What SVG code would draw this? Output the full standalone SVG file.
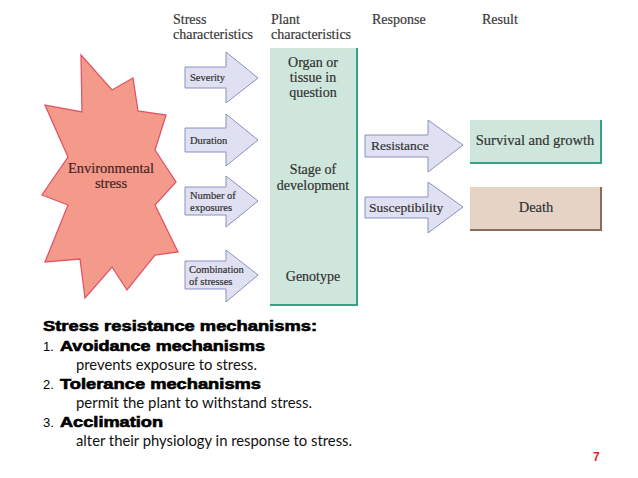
<svg xmlns="http://www.w3.org/2000/svg" width="638" height="478" viewBox="0 0 638 478">
<style>
.hdr{font-family:"Liberation Serif",serif;font-size:14px;fill:#3a3a3a;stroke:#3a3a3a;stroke-width:0.2}
.lbl{font-family:"Liberation Serif",serif;font-size:10.5px;fill:#333;stroke:#333;stroke-width:0.2}
.pl{font-family:"Liberation Serif",serif;font-size:14px;fill:#333;text-anchor:middle;stroke:#333;stroke-width:0.2}
.rl{font-family:"Liberation Serif",serif;font-size:13.5px;fill:#333;stroke:#333;stroke-width:0.2}
.arr{fill:#dfe0f2;stroke:#8a90bf;stroke-width:1}
.bh{font-family:"Liberation Sans",sans-serif;font-size:14px;font-weight:bold;fill:#000;stroke:#000;stroke-width:0.6}
.num{font-family:"Liberation Sans",sans-serif;font-size:13px;fill:#000}
.desc{font-family:"Lato","Liberation Sans",sans-serif;font-size:15px;fill:#111}
</style>
<rect width="638" height="478" fill="#fff"/>

<g id="headers">
<text class="hdr" x="173" y="24">Stress</text>
<text class="hdr" x="173" y="39">characteristics</text>
<text class="hdr" x="271" y="24">Plant</text>
<text class="hdr" x="271" y="39">characteristics</text>
<text class="hdr" x="372" y="24">Response</text>
<text class="hdr" x="482" y="24">Result</text>
</g>

<g id="environmental-stress">
<polygon points="81,55 112,90 133,78 138,111 166,115 155,150 176,182 155,205 178,252 155,255 127,290 112,267 85,298 80,259 45,262 68,205 42,195 68,157 45,105 82,112" fill="#f39a8b" stroke="#e25566" stroke-width="1.3"/>
<text class="pl" x="111" y="173" style="fill:#4a2424;stroke:#4a2424;font-size:14.5px">Environmental</text>
<text class="pl" x="111" y="188" style="fill:#4a2424;stroke:#4a2424;font-size:14.5px">stress</text>
</g>

<g id="connectors">
<g id="severity">
<polygon class="arr" points="185,67 226,67 226,52 258,78 226,103 226,88 185,88"/>
<text class="lbl" x="190" y="81">Severity</text>
</g>
<g id="duration">
<polygon class="arr" points="185,128 226,128 226,114 258,140 226,166 226,152 185,152"/>
<text class="lbl" x="190" y="144">Duration</text>
</g>
<g id="exposures">
<polygon class="arr" points="185,187 226,187 226,176 258,201 226,227 226,215 185,215"/>
<text class="lbl" x="190" y="199">Number of</text>
<text class="lbl" x="190" y="211">exposures</text>
</g>
<g id="combination">
<polygon class="arr" points="185,261 226,261 226,250 258,275 226,302 226,289 185,289"/>
<text class="lbl" x="189" y="273">Combination</text>
<text class="lbl" x="189" y="285">of stresses</text>
</g>
<g id="resistance">
<polygon class="arr" points="365,135 428,135 428,120 463,145 428,172 428,157 365,157"/>
<text class="rl" x="371" y="150">Resistance</text>
</g>
<g id="susceptibility">
<polygon class="arr" points="365,197 428,197 428,182 463,207 428,233 428,218 365,218"/>
<text class="rl" x="369" y="212">Susceptibility</text>
</g>
</g>

<g id="plant-characteristics">
<rect x="270" y="48" width="87" height="257" fill="#cfe6dd"/>
<polyline points="357,48 357,305 270,305" fill="none" stroke="#35a186" stroke-width="2"/>
<text class="pl" x="313" y="67">Organ or</text>
<text class="pl" x="313" y="82">tissue in</text>
<text class="pl" x="313" y="97">question</text>
<text class="pl" x="313" y="174">Stage of</text>
<text class="pl" x="313" y="190">development</text>
<text class="pl" x="313" y="281">Genotype</text>
</g>

<g id="survival">
<rect x="470" y="120" width="131" height="43" fill="#cfe6dd"/>
<polyline points="601,120 601,163 470,163" fill="none" stroke="#35a186" stroke-width="2"/>
<text class="pl" x="535" y="145" style="font-size:14.5px">Survival and growth</text>
</g>

<g id="death">
<rect x="470" y="187" width="131" height="43" fill="#e5d3c6"/>
<polyline points="601,187 601,230 470,230" fill="none" stroke="#8a6b5c" stroke-width="2"/>
<text class="pl" x="536" y="212" style="font-size:14.5px">Death</text>
</g>

<g id="mechanisms">
<text class="bh" x="43" y="331" textLength="274" lengthAdjust="spacingAndGlyphs">Stress resistance mechanisms:</text>
<text class="num" x="43" y="351">1.</text>
<text class="bh" x="60" y="351" textLength="205" lengthAdjust="spacingAndGlyphs">Avoidance mechanisms</text>
<text class="desc" x="76" y="370" textLength="181" lengthAdjust="spacingAndGlyphs">prevents exposure to stress.</text>
<text class="num" x="43" y="389">2.</text>
<text class="bh" x="60" y="389" textLength="201" lengthAdjust="spacingAndGlyphs">Tolerance mechanisms</text>
<text class="desc" x="76" y="408" textLength="236" lengthAdjust="spacingAndGlyphs">permit the plant to withstand stress.</text>
<text class="num" x="43" y="427">3.</text>
<text class="bh" x="60" y="427" textLength="103" lengthAdjust="spacingAndGlyphs">Acclimation</text>
<text class="desc" x="76" y="446" textLength="276" lengthAdjust="spacingAndGlyphs">alter their physiology in response to stress.</text>
</g>

<text x="593" y="461" style="font-family:'Liberation Sans',sans-serif;font-size:12px;font-weight:bold;fill:#e8231f">7</text>
</svg>
